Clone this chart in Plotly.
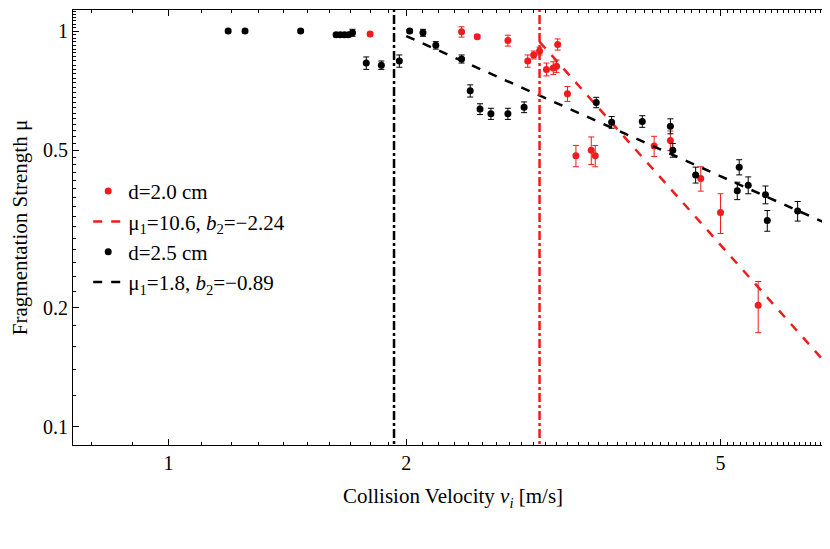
import plotly.graph_objects as go
import numpy as np

# d=2.5 cm (black)
bx = [1.19,1.25,1.47,1.63,1.65,1.67,1.69,1.71,1.78,1.86,1.96,2.02,2.10,2.18,2.35,2.41,2.48,2.56,2.69,2.82,3.48,3.64,3.98,4.32,4.35,4.65,5.25,5.28,5.42,5.70,5.73,6.26]
by = [1.0,1.0,1.0,0.978,0.978,0.978,0.978,0.99,0.83,0.82,0.84,1.0,0.99,0.92,0.85,0.706,0.635,0.618,0.618,0.642,0.66,0.588,0.591,0.575,0.50,0.433,0.395,0.453,0.408,0.386,0.332,0.351]
be = [0.01,0.01,0.01,0.01,0.01,0.01,0.01,0.02,0.03,0.02,0.03,0.01,0.02,0.02,0.02,0.025,0.02,0.02,0.02,0.02,0.02,0.02,0.02,0.025,0.02,0.02,0.02,0.02,0.02,0.02,0.02,0.02]
# d=2.0 cm (red)
rx = [1.80,2.35,2.46,2.69,2.85,2.90,2.95,3.01,3.07,3.11,3.10,3.20,3.28,3.43,3.47,4.12,4.32,4.72,5.00,5.58]
ry = [0.983,0.995,0.967,0.946,0.84,0.87,0.89,0.80,0.806,0.925,0.815,0.694,0.484,0.50,0.484,0.512,0.529,0.424,0.348,0.203]
re = [0.01,0.03,0.01,0.03,0.03,0.02,0.02,0.03,0.03,0.03,0.03,0.03,0.03,0.04,0.03,0.03,0.03,0.03,0.04,0.03]

vx_black, vx_red = 1.93, 2.95
fit_b = (1.8, -0.89)
fit_r = (10.6, -2.24)

xb = np.geomspace(2.0, 7.2, 50)
xr = np.geomspace(2.95, 7.2, 50)

fig = go.Figure()
fig.add_trace(go.Scatter(x=rx, y=ry, mode='markers', name='d=2.0 cm',
    marker=dict(color='#ee1c1c', size=7),
    error_y=dict(type='data', array=re, color='#ee1c1c', thickness=1, width=3)))
fig.add_trace(go.Scatter(x=xr, y=fit_r[0]*xr**fit_r[1], mode='lines',
    name='μ<sub>1</sub>=10.6, <i>b</i><sub>2</sub>=−2.24',
    line=dict(color='#ee1c1c', width=2.5, dash='dash')))
fig.add_trace(go.Scatter(x=bx, y=by, mode='markers', name='d=2.5 cm',
    marker=dict(color='black', size=7),
    error_y=dict(type='data', array=be, color='black', thickness=1, width=3)))
fig.add_trace(go.Scatter(x=xb, y=fit_b[0]*xb**fit_b[1], mode='lines',
    name='μ<sub>1</sub>=1.8, <i>b</i><sub>2</sub>=−0.89',
    line=dict(color='black', width=2.5, dash='dash')))
fig.add_trace(go.Scatter(x=[vx_black, vx_black], y=[0.05, 2], mode='lines', showlegend=False,
    line=dict(color='black', width=2.5, dash='dashdot')))
fig.add_trace(go.Scatter(x=[vx_red, vx_red], y=[0.05, 2], mode='lines', showlegend=False,
    line=dict(color='#ee1c1c', width=2.5, dash='dashdot')))

ax = dict(type='log', showgrid=False, zeroline=False, showline=True, linecolor='black',
          mirror='ticks', ticks='inside', ticklen=6, tickcolor='black',
          minor=dict(ticks='inside', ticklen=3, tickcolor='black'))
fig.update_xaxes(**ax, range=[np.log10(0.757), np.log10(6.94)], tickvals=[1,2,5], ticktext=['1','2','5'],
                 title=dict(text='Collision Velocity <i>v<sub>i</sub></i> [m/s]', font=dict(size=21)))
fig.update_yaxes(**ax, range=[np.log10(0.09), np.log10(1.13)], tickvals=[0.1,0.2,0.5,1], ticktext=['0.1','0.2','0.5','1'],
                 title=dict(text='Fragmentation Strength μ', font=dict(size=21)))
fig.update_layout(width=830, height=549, margin=dict(l=65, r=5, t=2, b=112),
    plot_bgcolor='white', paper_bgcolor='white',
    font=dict(family='Liberation Serif', size=20, color='black'),
    legend=dict(x=0.02, y=0.63, xanchor='left', yanchor='top', bgcolor='rgba(0,0,0,0)', font=dict(size=21)))
fig.write_html('out.html')
